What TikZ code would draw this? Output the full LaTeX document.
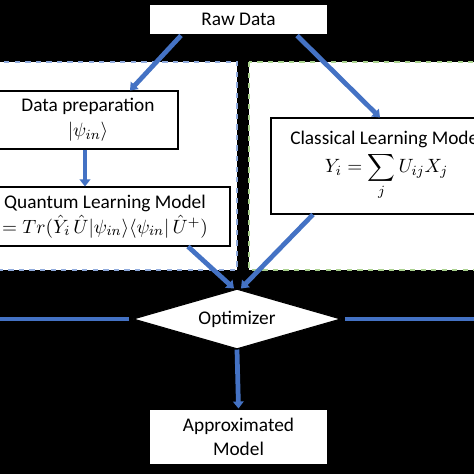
\documentclass[tikz,border=0pt]{standalone}
\usepackage{amsmath}
\usepackage{fontspec}
\setmainfont{Carlito}
\usetikzlibrary{positioning,calc,shapes.geometric,arrows.meta}
\definecolor{flowblue}{HTML}{4472C4}
\definecolor{qpanel}{HTML}{8FAADC}
\definecolor{cpanel}{HTML}{A9D18E}

\begin{document}
\begin{tikzpicture}[x=0.02cm,y=-0.02cm,
    box/.style={draw=black,fill=white,line width=0.6pt,align=center,inner sep=0pt,
        font=\fontsize{11}{14}\selectfont},
    flow/.style={draw=flowblue,line width=2.7pt,-{Triangle[width=6pt,length=4pt]}},
    link/.style={draw=flowblue,line width=2.7pt},
    panel/.style={fill=white,dashed,line width=0.8pt}]
    \useasboundingbox (0,0) rectangle (474,474);
    \clip (0,0) rectangle (474,474);
    \fill[black] (0,0) rectangle (474,474);
    \draw[panel,draw=qpanel] (-5,62) rectangle (237,270);
    \draw[panel,draw=cpanel] (249,62) rectangle (480,270);

    \node[box,minimum width=3.58cm,minimum height=0.62cm] (raw) at (238.5,19.5) {Raw Data};
    \node[box,minimum width=3.6cm,minimum height=1.16cm] (prep) at (88,120) {Data preparation\\$|\psi_{in}\rangle$};
    \node[box,minimum width=5cm,minimum height=1.18cm] (qlm) at (105,216.5)
        {Quantum Learning Model\\$= Tr(\hat{Y}_i\,\hat{U}|\psi_{in}\rangle\langle\psi_{in}|\,\hat{U}^{+})$};
    \node[box,minimum width=4.62cm,minimum height=1.92cm] (clm) at (386.5,166)
        {Classical Learning Model\\[2pt]$Y_i=\displaystyle\sum_j U_{ij}X_j$};
    \node[box,shape=diamond,aspect=3.5,minimum width=4.16cm,minimum height=1.2cm] (opt) at (237,319) {Optimizer};
    \node[box,minimum width=3.58cm,minimum height=1.12cm] (approx) at (238.5,437) {Approximated\\Model};

    \coordinate (lend) at (0,319);
    \coordinate (rend) at (474,319);

    \draw[flow] ($(raw.south)+(-57.5,0)$) -- ($(prep.north)+(42,0)$);
    \draw[flow] ($(raw.south)+(58.5,0)$) -- ($(clm.north)+(-6.5,0)$);
    \draw[flow] ($(prep.south)+(-3,0)$) -- ($(qlm.north)+(-20,0)$);
    \draw[flow] ($(qlm.south)+(83,0)$) -- ($(opt.north)+(-3,0)$);
    \draw[flow] ($(clm.south)+(-73.5,0)$) -- ($(opt.north)+(4,0)$);
    \draw[flow] (opt.south) -- (approx.north);
    \draw[link] ($(opt.west)+(-3,0)$) -- (lend);
    \draw[link] ($(opt.east)+(3,0)$) -- (rend);
\end{tikzpicture}
\end{document}
